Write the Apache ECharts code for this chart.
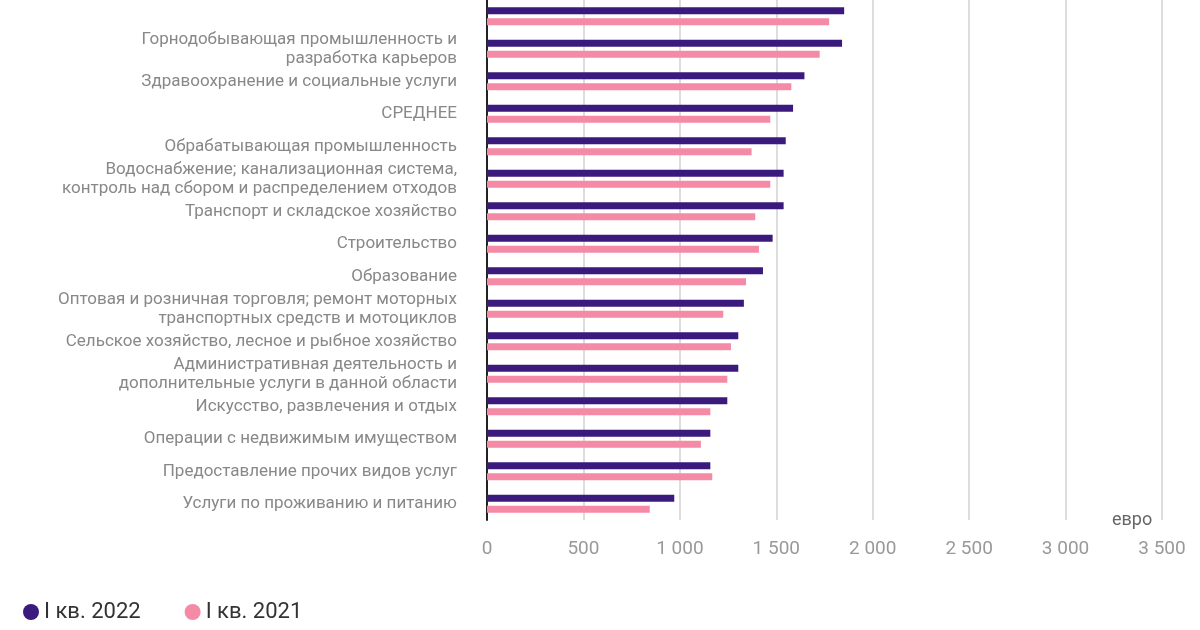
<!DOCTYPE html><html><head><meta charset="utf-8"><script src="https://cdn.jsdelivr.net/npm/echarts@6/dist/echarts.min.js"></script></head><body style="margin:0"><div id="c" style="width:1200px;height:630px"></div><script>
const categories=["Профессиональная, научная и техническая\nдеятельность","Горнодобывающая промышленность и\nразработка карьеров","Здравоохранение и социальные услуги","СРЕДНЕЕ","Обрабатывающая промышленность","Водоснабжение; канализационная система,\nконтроль над сбором и распределением отходов","Транспорт и складское хозяйство","Строительство","Образование","Оптовая и розничная торговля; ремонт моторных\nтранспортных средств и мотоциклов","Сельское хозяйство, лесное и рыбное хозяйство","Административная деятельность и\nдополнительные услуги в данной области","Искусство, развлечения и отдых","Операции с недвижимым имуществом","Предоставление прочих видов услуг","Услуги по проживанию и питанию"];
const s2022=[1852,1841,1646,1587,1549,1538,1538,1481,1431,1332,1303,1303,1246,1158,1158,971];
const s2021=[1774,1725,1578,1469,1372,1469,1391,1410,1343,1225,1265,1246,1158,1109,1168,844];
const xTicks=[0,500,1000,1500,2000,2500,3000,3500];
const fmt=v=>String(v).replace(/\B(?=(\d{3})+(?!\d))/g,' ');
const c=echarts.init(document.getElementById('c'));
c.setOption({animation:false,textStyle:{fontFamily:'Roboto'},
grid:{left:487,right:38,top:-8,bottom:110,containLabel:false},
legend:{left:18,bottom:2,itemWidth:16,itemHeight:16,itemGap:44,icon:'circle',textStyle:{fontSize:22,color:'#333'},data:['I кв. 2022','I кв. 2021']},
xAxis:{type:'value',min:0,max:3500,interval:500,name:'евро',nameLocation:'end',nameGap:0,nameTextStyle:{fontSize:18,color:'#666',padding:[62,0,0,-50]},
axisLabel:{fontSize:19,color:'#999',margin:20,formatter:fmt},splitLine:{lineStyle:{color:'#ddd',width:2}},axisLine:{show:false},axisTick:{show:false}},
yAxis:{type:'category',inverse:true,data:categories,axisLine:{lineStyle:{color:'#222',width:2}},axisTick:{show:false},
axisLabel:{fontSize:17,color:'#888',lineHeight:19,margin:30,align:'right'}},
series:[{name:'I кв. 2022',type:'bar',data:s2022,barWidth:7,barGap:'55%',itemStyle:{color:'#3b1a7e'}},
{name:'I кв. 2021',type:'bar',data:s2021,barWidth:7,itemStyle:{color:'#f48aa6'}}]});
</script></body></html>
